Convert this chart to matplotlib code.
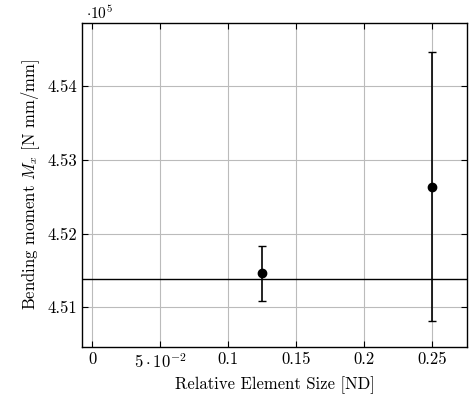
import numpy as np
import matplotlib
matplotlib.use("Agg")
from matplotlib import pyplot as plt

plt.rcParams['font.family'] = 'serif'
plt.rcParams['font.serif'] = ['cmr10', 'DejaVu Serif']
plt.rcParams['mathtext.fontset'] = 'cm'
plt.rcParams['axes.unicode_minus'] = False

# values in units of 1e5 N mm/mm
sizes = [0.125, 0.25]
moments = [4.5146, 4.5263]
err_low = [4.5108, 4.5081]
err_high = [4.5183, 4.5446]
reference = 4.5139

xticks = [0, 0.05, 0.1, 0.15, 0.2, 0.25]
xticklabels = ['0', r'$5\cdot10^{-2}$', '0.1', '0.15', '0.2', '0.25']
yticks = [4.51, 4.52, 4.53, 4.54]
yticklabels = ['4.51', '4.52', '4.53', '4.54']

fig = plt.figure(figsize=(4.74, 4.13), dpi=100)
ax = fig.add_axes([82/474, 1 - 347/413, 385/474, 324/413])

m = np.array(moments)
yerr = [m - np.array(err_low), np.array(err_high) - m]
ax.errorbar(sizes, moments, yerr=yerr, fmt='o', color='black', ms=6,
            capsize=3, elinewidth=1.2, capthick=1)
ax.axhline(reference, color='black', lw=1)

ax.set_xlim(-0.0074, 0.2757)
ax.set_ylim(4.5046, 4.5486)
ax.set_xticks(xticks)
ax.set_xticklabels(xticklabels)
ax.set_yticks(yticks)
ax.set_yticklabels(yticklabels)
ax.grid(True, color='#bbbbbb', lw=0.8)
ax.set_axisbelow(True)
ax.tick_params(direction='in', top=True, right=True, labelsize=12, length=4)
for s in ax.spines.values():
    s.set_linewidth(1)
ax.set_xlabel('Relative Element Size [ND]', fontsize=12)
ax.set_ylabel(r'Bending moment $M_x$ [N mm/mm]', fontsize=12)
ax.text(0.01, 1.003, r'$\cdot10^{5}$', transform=ax.transAxes, fontsize=11,
        ha='left', va='bottom')

fig.savefig('out.png', dpi=100)
